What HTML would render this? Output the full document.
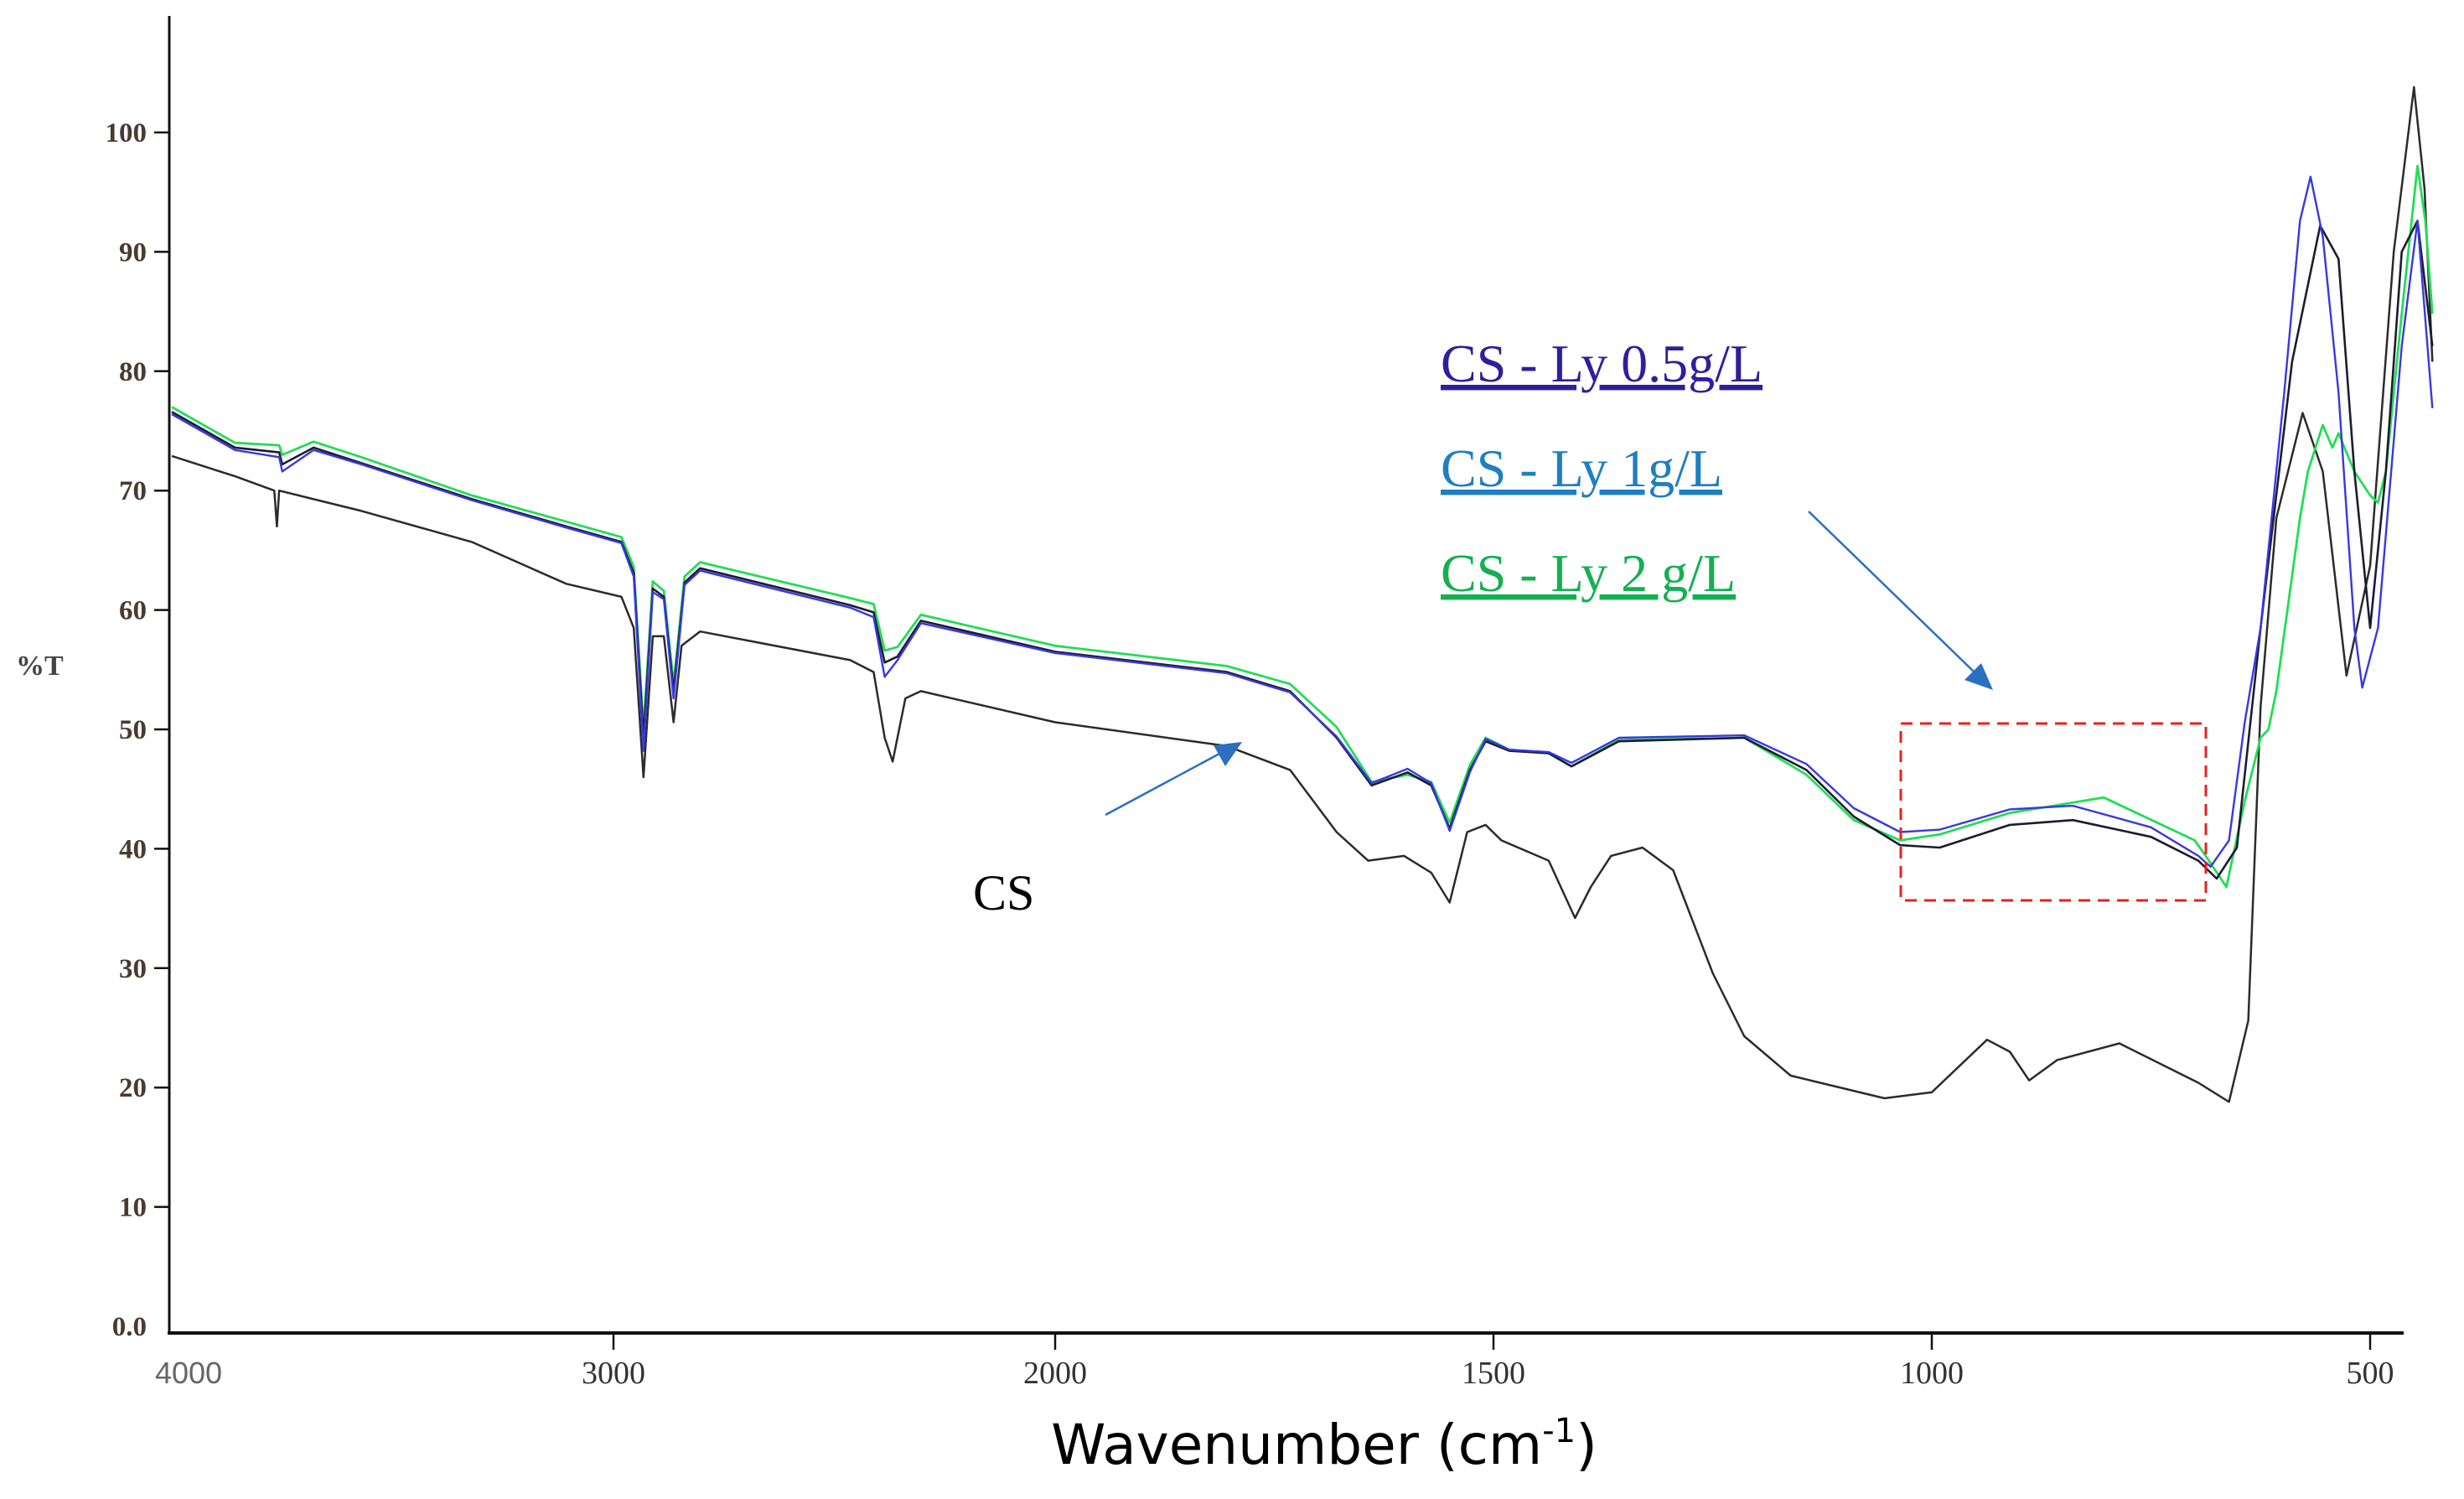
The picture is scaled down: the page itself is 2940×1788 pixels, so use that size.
<!DOCTYPE html>
<html><head><meta charset="utf-8"><style>
html,body{margin:0;padding:0;background:#fff;}
svg{display:block;}
</style></head><body>
<svg id="chart" width="2940" height="1788" viewBox="0 0 2940 1788" xmlns="http://www.w3.org/2000/svg">
<g id="axes"></g>
<g id="series"></g>
<g id="annot">
  <rect x="2268" y="863" width="364" height="211" fill="none" stroke="#e82020" stroke-width="3" stroke-dasharray="14,9"/>
  <line x1="2158" y1="610" x2="2356" y2="802" stroke="#2a6fc0" stroke-width="2.5"/>
  <polygon points="2378,823 2344,811 2364,791" fill="#2a6fc0"/>
  <line x1="1319" y1="972" x2="1455" y2="899" stroke="#2a6fc0" stroke-width="2.5"/>
  <polygon points="1482,885 1448,889 1462,914" fill="#2a6fc0"/>
  <text x="1161" y="1085" font-family="'Liberation Serif',serif" font-size="60" fill="#000">CS</text>
  <text x="1719" y="455" font-family="'Liberation Serif',serif" font-size="64" fill="#2e1f9c" text-decoration="underline">CS - Ly 0.5g/L</text>
  <text x="1719" y="580" font-family="'Liberation Serif',serif" font-size="64" fill="#1f7fc0" text-decoration="underline">CS - Ly 1g/L</text>
  <text x="1719" y="705" font-family="'Liberation Serif',serif" font-size="64" fill="#14b050" text-decoration="underline">CS - Ly 2 g/L</text>
  <text x="1580" y="1746" text-anchor="middle" font-family="'DejaVu Sans','Liberation Sans',sans-serif" font-size="66" fill="#000">Wavenumber (cm<tspan font-size="40" dy="-26">-1</tspan><tspan dy="26">)</tspan></text>
  <text x="19" y="805" font-family="'Liberation Serif',serif" font-size="34" font-weight="bold" fill="#444">%T</text>
</g>
</svg>
<script>
// Y ticks
const yTicks = [0,10,20,30,40,50,60,70,80,90,100];
const yTickLabels = ["0.0","10","20","30","40","50","60","70","80","90","100"];
// X ticks
const xTicks = [4000,3000,2000,1500,1000,500];
const xTickLabels = ["4000","3000","2000","1500","1000","500"];

// CS (chitosan) spectrum
const csWn = [4000,3857,3768,3762,3757,3571,3321,3107,2982,2954,2932,2911,2886,2864,2846,2804,2464,2411,2386,2368,2339,2304,2000,1804,1732,1679,1643,1602,1571,1550,1530,1509,1491,1437,1407,1389,1366,1330,1295,1250,1214,1161,1054,1000,937,911,889,857,786,696,661,639,625,607,577,554,527,500,473,450,438,429];
const csVal = [72.9,71.2,70.0,67.0,70.0,68.3,65.7,62.2,61.1,58.5,46.0,57.8,57.8,50.6,57.0,58.2,55.8,54.8,49.3,47.3,52.6,53.2,50.6,48.6,46.6,41.4,39.0,39.4,38.0,35.5,41.4,42.0,40.7,39.0,34.2,36.8,39.4,40.1,38.2,29.6,24.3,21.0,19.1,19.6,24.0,23.0,20.6,22.3,23.7,20.4,18.8,25.6,51.9,67.7,76.5,71.6,54.5,63.7,90.0,103.8,95.3,80.8];

// CS - Ly 1 g/L (dark)
const darkWn = [4000,3857,3757,3750,3679,3571,3321,3107,2982,2954,2932,2911,2886,2864,2839,2804,2464,2411,2386,2357,2304,2000,1804,1732,1679,1639,1598,1571,1550,1527,1509,1482,1437,1411,1357,1214,1143,1089,1036,991,911,839,750,696,675,652,625,589,557,536,518,500,482,464,446,429];
const darkVal = [76.6,73.6,73.2,72.2,73.6,72.3,69.3,67.0,65.7,63.1,49.3,61.8,61.1,53.2,62.3,63.5,60.4,59.8,55.6,56.1,59.1,56.5,54.8,53.2,49.3,45.3,46.4,45.3,41.7,46.6,49.0,48.2,48.0,46.9,49.0,49.3,46.6,42.7,40.3,40.1,42.0,42.4,41.0,39.0,37.5,40.1,58.5,80.8,92.2,89.4,71.6,58.5,71.6,90.0,92.6,82.1];

// CS - Ly 0.5 g/L (blue)
const blueWn = [4000,3857,3757,3750,3679,3571,3321,3107,2982,2954,2932,2911,2886,2864,2839,2804,2464,2411,2386,2357,2304,2000,1804,1732,1679,1639,1598,1571,1550,1527,1509,1482,1437,1411,1357,1214,1143,1089,1036,991,911,839,750,696,682,661,643,625,598,580,568,554,536,518,509,491,464,446,429];
const blueVal = [76.4,73.4,72.8,71.6,73.4,72.2,69.2,66.9,65.6,62.8,48.2,61.5,60.9,52.6,62.1,63.3,60.2,59.4,54.4,55.8,58.9,56.4,54.7,53.1,49.4,45.5,46.7,45.5,41.5,46.4,49.2,48.3,48.1,47.2,49.3,49.5,47.1,43.4,41.4,41.6,43.3,43.6,41.8,39.4,38.5,40.7,50.6,58.5,78.2,92.6,96.3,91.3,78.2,58.5,53.5,58.5,82.1,92.6,76.9];

// CS - Ly 2 g/L (green)
const greenWn = [4000,3857,3757,3750,3679,3571,3321,3107,2982,2954,2932,2911,2886,2864,2839,2804,2464,2411,2386,2357,2304,2000,1804,1732,1679,1639,1598,1571,1550,1527,1509,1482,1437,1411,1357,1214,1143,1089,1036,991,911,804,700,682,664,643,625,616,607,580,571,554,543,536,518,500,491,482,464,446,437,429];
const greenVal = [77.0,74.0,73.8,73.0,74.1,72.8,69.6,67.4,66.1,63.6,50.0,62.4,61.6,53.8,62.8,64.0,61.0,60.5,56.6,56.9,59.6,57.0,55.3,53.8,50.2,45.6,46.2,45.6,42.2,47.0,49.3,48.3,48.0,46.9,49.1,49.3,46.2,42.4,40.7,41.2,43.0,44.3,40.7,38.8,36.8,44.0,49.3,50.0,53.2,67.7,71.6,75.5,73.6,74.8,71.6,69.6,69.0,71.6,84.8,97.2,92.6,84.8];

function xScale(wn){ return wn >= 2000 ? 205 + (4000 - wn) * 0.527 : 1259 + (2000 - wn) * 1.046; }
function yScale(v){ return 1582 - v * 14.24; }
const NS = "http://www.w3.org/2000/svg";
const axes = document.getElementById('axes');
const seriesG = document.getElementById('series');

function mk(tag, attrs, parent){ const e = document.createElementNS(NS, tag); for (const k in attrs) e.setAttribute(k, attrs[k]); parent.appendChild(e); return e; }

let yl = mk('line', {x1:202,y1:19,x2:202,y2:1592,stroke:'#111','stroke-width':3}, axes);


let xl = mk('line', {x1:200,y1:1590,x2:2868,y2:1590,stroke:'#111','stroke-width':4}, axes);



yTicks.forEach((t, i) => {
  const y = yScale(t);
  if (t > 0) {
    const tk = mk('line', {x1:184,y1:y,x2:202,y2:y,stroke:'#111','stroke-width':2.5}, axes);
    
    
  }
  const tx = mk('text', {x:175,y:y+11,'text-anchor':'end','font-family':"'Liberation Serif',serif",'font-size':33,'font-weight':'bold',fill:'#4a3a30'}, axes);
  tx.textContent = yTickLabels[i];
  
  
});
xTicks.forEach((t, i) => {
  const x = xScale(t);
  if (t !== 4000) {
    const tk = mk('line', {x1:x,y1:1590,x2:x,y2:1610,stroke:'#111','stroke-width':2.5}, axes);
    
    
  }
  const tx = mk('text', {x: t === 4000 ? x + 20 : x, y:1650,'text-anchor':'middle','font-family': t === 4000 ? "'Liberation Sans',sans-serif" : "'Liberation Serif',serif",'font-size': t === 4000 ? 36 : 38,fill: t === 4000 ? '#666' : '#333'}, axes);
  tx.textContent = xTickLabels[i];
  
  
});

function drawSeries(wn, vals, color, name, w){
  const d = wn.map((v, i) => (i ? 'L' : 'M') + xScale(v).toFixed(1) + ',' + yScale(vals[i]).toFixed(1)).join(' ');
  const p = mk('path', {d:d, fill:'none', stroke:color, 'stroke-width':w, 'stroke-linejoin':'round'}, seriesG);
  
  
}
drawSeries(csWn, csVal, '#2b2b2b', 'series-cs', 2.5);
drawSeries(greenWn, greenVal, '#22dd55', 'series-cs-ly-2', 2.8);
drawSeries(darkWn, darkVal, '#1c1c30', 'series-cs-ly-1', 2.6);
drawSeries(blueWn, blueVal, '#3838e0', 'series-cs-ly-0-5', 2.4);
</script>
</body></html>
